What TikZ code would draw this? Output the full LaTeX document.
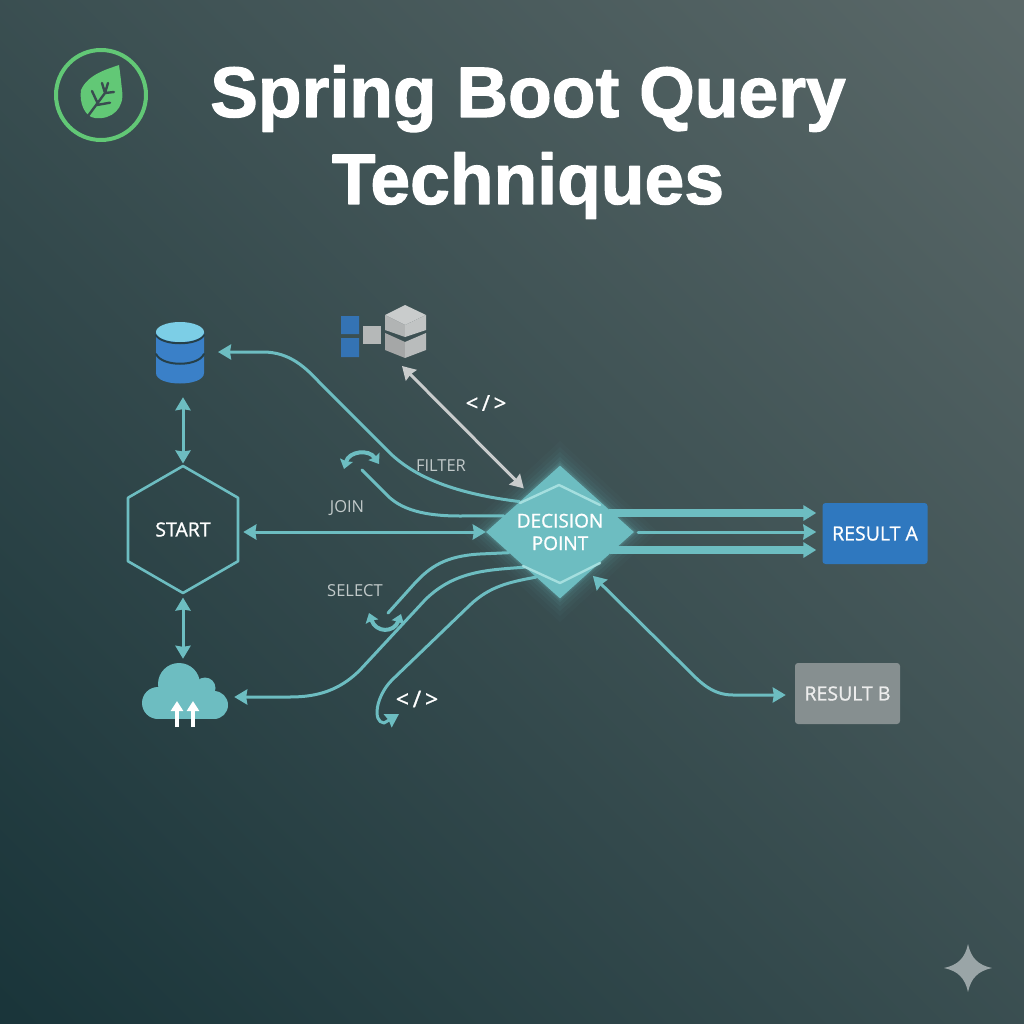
\documentclass[tikz,border=0pt]{standalone}
\usepackage{fontspec}
\setmainfont{Open Sans}
\newfontfamily\titlefont[FakeBold=1.6]{Liberation Sans Bold}
\newfontfamily\semifont[FakeBold=1]{Open Sans}
\usepackage{xcolor}
\usetikzlibrary{arrows.meta,shapes.geometric}

\definecolor{bglow}{HTML}{0C2A30}
\definecolor{bghigh}{HTML}{687372}
\definecolor{teal}{HTML}{6DBDC1}
\definecolor{paletaal}{HTML}{A5DFDF}
\definecolor{leafgreen}{HTML}{62C876}
\definecolor{darkstem}{HTML}{3A4C50}
\definecolor{dbblue}{HTML}{3A80C8}
\definecolor{dbtop}{HTML}{7CCEE6}
\definecolor{dbline}{HTML}{26404A}
\definecolor{boxblue}{HTML}{2F78BF}
\definecolor{boxgrey}{HTML}{868F90}
\definecolor{arrowgrey}{HTML}{C9CCCC}
\definecolor{labelgrey}{HTML}{C2CACA}
\definecolor{stargrey}{HTML}{9AA5A7}

\pgfdeclareverticalshading{bgdiag}{100bp}{color(0bp)=(bglow); color(100bp)=(bghigh)}

\tikzset{
  flow/.style={draw=teal,line width=3pt},
  flowloop/.style={draw=teal,line width=4pt,>={Stealth[length=9pt,width=13pt,inset=1pt]}},
  result/.style={rounded corners=3pt,text=white,minimum width=105pt,minimum height=61pt,inner sep=0pt,font=\semifont\fontsize{19.5}{22}\selectfont},
  edgelabel/.style={text=labelgrey,font=\fontsize{16.5}{18}\selectfont,inner sep=0pt,text depth=0pt},
  codelabel/.style={text=white,inner sep=0pt}
}

\begin{document}
\begin{tikzpicture}[line cap=round,line join=round,>={Stealth[length=13pt,width=15pt,inset=1pt]},x=1pt,y=-1pt]
\useasboundingbox (0,0) rectangle (1024,1024);
\shade [shading=bgdiag,shading angle=-45] (0,0) rectangle (1024,1024);

% logo
\draw [leafgreen,line width=4pt] (101,95) circle (45);
\fill [leafgreen] (119,65) .. controls (108,69) and (88,74) .. (81,90)
  .. controls (79,103) and (85,117) .. (95,118)
  .. controls (112,120) and (125,108) .. (122,90)
  .. controls (121,80) and (120,72) .. (119,65) -- cycle;
\draw [darkstem,line width=2.4pt] (84.3,121) -- (105,93)
  (92,91) -- (98,104) (97,105) -- (110,102.7) (102,83) -- (105,93)
  (108,83) -- (105,93) -- (114,92);

% title
\node [text=white,inner sep=0pt,font=\titlefont\fontsize{71.5}{87}\selectfont,align=center] (title) at (528,142) {Spring Boot Query\\Techniques};

% glow behind the diamond
\foreach \s/\o in {24/.03,18/.04,13/.06,8/.08,4/.11,2/.14}
  \fill [teal,opacity=\o] (486-\s,532) -- (560,465-\s) -- (634+\s,532) -- (560,598+\s) -- cycle;

% nodes
\node [regular polygon,regular polygon sides=6,regular polygon rotate=30,draw=teal,line width=2.6pt,minimum size=127pt,inner sep=0pt,text=white,font=\semifont\fontsize{19.5}{22}\selectfont] (start) at (183,529.5) {START};
\node [diamond,fill=teal,minimum width=148pt,minimum height=133pt,aspect=1.11,inner sep=0pt,text=white,align=center,font=\semifont\fontsize{19}{22.5}\selectfont] (decision) at (560,532) {DECISION\\POINT};
\node [result,fill=boxblue] (resa) at (875,533.5) {RESULT A};
\node [result,fill=boxgrey,text=white!93!black] (resb) at (847.5,693.5) {RESULT B};
\node [minimum width=48pt,minimum height=61pt,inner sep=0pt] (db) at (180,352.5) {};
\node [minimum width=86pt,minimum height=68pt,inner sep=0pt] (cloud) at (185,697) {};
\node [minimum width=85pt,minimum height=53pt,inner sep=0pt] (cube) at (384,332) {};

\coordinate (joinloop) at (362,470);
\coordinate (selectloop) at (388,613);
\coordinate (codeloop) at (399,714);

% database
\fill [dbblue] (156,332) -- (156,373) .. controls (156,387) and (204,387) .. (204,373) -- (204,332) -- cycle;
\draw [dbline,line width=2pt] (156,354) .. controls (162,367) and (198,367) .. (204,354);
\draw [dbline,line width=2pt] (156,335) .. controls (162,346) and (198,346) .. (204,335);
\fill [dbtop] (180,332) ellipse (24 and 10);

% blocks
\fill [dbblue!90!black] (341,316) rectangle (359,334) (341,338) rectangle (359,357);
\fill [arrowgrey!90!black] (363,326) rectangle (381,344);
\fill [arrowgrey] (385,315) -- (405,305) -- (426,315) -- (405,325) -- cycle;
\fill [arrowgrey!88!black] (385,315) -- (405,325) -- (405,337) -- (385,330) -- cycle;
\fill [arrowgrey!96!black] (426,315) -- (405,325) -- (405,337) -- (426,330) -- cycle;
\fill [arrowgrey!82!black] (385,333) -- (405,342) -- (405,358) -- (385,350) -- cycle;
\fill [arrowgrey!92!black] (426,333) -- (405,342) -- (405,358) -- (426,350) -- cycle;

% cloud
\fill [teal] (179,684) circle (21);
\fill [teal] (205,688) circle (10.5);
\fill [teal] (214,705) circle (14);
\fill [teal] (158,703) circle (16);
\fill [teal] (158,700) rectangle (214,719);
\fill [teal] (170,690) rectangle (205,719);
\draw [white,line width=4.6pt,line cap=butt,-{Triangle[length=10pt,width=12pt]}] (177,727) -- (177,701);
\draw [white,line width=4.6pt,line cap=butt,-{Triangle[length=10pt,width=12pt]}] (193,727) -- (193,701);

% connectors
\draw [flow,<->,shorten <=14pt,shorten >=1pt] (db.south -| start.north) -- (start.north);
\draw [flow,<->,shorten <=3pt,shorten >=4pt] (start.south) -- (cloud.north -| start.south);
\draw [flow,<->,shorten <=4pt] (start.east |- decision.west) -- (decision.west);
\draw [flow,->] (decision.143) .. controls (450,493) and (410,475) .. (385,448)
  -- (320,383) .. controls (306,368) and (290,352) .. (263,352) -- (218,352);
\draw [flow] (decision.164) -- (460,516) .. controls (425,516) and (400,510) .. (385,493) -- (joinloop);
\draw [flow] (decision.202) -- (480,554) .. controls (445,556) and (430,567) .. (415,583) -- (selectloop);
\draw [flow,->,shorten >=6pt] (decision.225) .. controls (490,570) and (455,570) .. (425,600)
  -- (360,670) .. controls (340,690) and (318,697) .. (290,697) -- (cloud.east);
\draw [flow,->] (decision.242) .. controls (510,582) and (490,586) .. (470,605)
  -- (392,680) .. controls (376,696) and (372,722) .. (384,723) -- (codeloop);
\draw [flow,<->,shorten <=9pt,shorten >=5pt] ([yshift=-1.5pt]resb.west) -- (733,695) .. controls (712,695) and (700,682) .. (688,670) -- (decision.-54);
\draw [draw=arrowgrey,line width=3pt,<->,shorten >=7pt] (402,366) -- (decision.129);

% loops at the ends of two curves
\draw [flowloop,<->] (344,469) .. controls (349,451) and (369,449) .. (379,464);
\draw [flowloop,<->] (369,613) .. controls (376,633) and (394,633) .. (401,614);

% thick lines to result a
\draw [draw=teal,line width=7.5pt,line cap=butt,-{Stealth[length=13pt,width=15pt,inset=0pt]},shorten >=6pt] ([yshift=19pt]decision.east) ++(-25,0) -- ([yshift=20.5pt]resa.west);
\draw [draw=teal,line width=3pt,->,shorten >=6pt] (638,532) -- ([yshift=1.5pt]resa.west);
\draw [draw=teal,line width=7.5pt,line cap=butt,-{Stealth[length=13pt,width=15pt,inset=0pt]},shorten >=6pt] ([yshift=-18pt]decision.east) ++(-24,0) -- ([yshift=-16.5pt]resa.west);

% chevrons on the diamond
\draw [paletaal,line width=2.4pt] (520,503) -- (559,485) -- (600,505);
\draw [paletaal,line width=2.4pt] (523,566) -- (560,583) -- (600,563);

% labels
\node [edgelabel] (filterlabel) at (441,466) {FILTER};
\node [edgelabel] (joinlabel) at (347,507) {JOIN};
\node [edgelabel] (selectlabel) at (355,591) {SELECT};
\node [codelabel,font=\semifont\fontsize{22}{24}\selectfont] (codeone) at (486,403) {<\,/\,>};
\node [codelabel,font=\semifont\fontsize{23}{24}\selectfont] (codetwo) at (417,699) {<\,/\,>};

% star
\fill [stargrey] (968,944) .. controls (971,958) and (978,965) .. (992,968)
  .. controls (978,971) and (971,978) .. (968,992)
  .. controls (965,978) and (958,971) .. (944,968)
  .. controls (958,965) and (965,958) .. (968,944) -- cycle;
\end{tikzpicture}
\end{document}
